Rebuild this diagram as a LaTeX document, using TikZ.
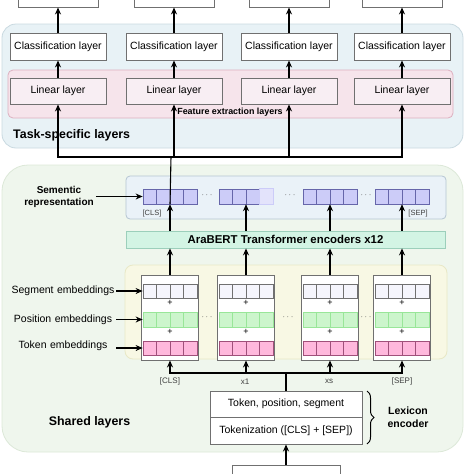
\documentclass[tikz,border=0pt]{standalone}
\usepackage{fontspec}
\setmainfont{Liberation Sans}
\usetikzlibrary{positioning,arrows.meta,decorations.pathreplacing}
\definecolor{taskbg}{HTML}{E8F2F6}
\definecolor{taskline}{HTML}{C9D9E0}
\definecolor{featbg}{HTML}{F6E4EB}
\definecolor{featline}{HTML}{DDB0C0}
\definecolor{linbg}{HTML}{F8EEF3}
\definecolor{sharedbg}{HTML}{EFF6ED}
\definecolor{sharedline}{HTML}{DCE8D8}
\definecolor{sembg}{HTML}{EAF2F8}
\definecolor{semline}{HTML}{B5C5D3}
\definecolor{semcell}{HTML}{CCCCF8}
\definecolor{semcellline}{HTML}{6666AA}
\definecolor{encbg}{HTML}{D3F4E4}
\definecolor{encline}{HTML}{9CCFBB}
\definecolor{embbg}{HTML}{F8F8E4}
\definecolor{embline}{HTML}{E8E8C6}
\definecolor{segcell}{HTML}{F5F5FC}
\definecolor{poscell}{HTML}{CCF5CC}
\definecolor{posline}{HTML}{99E699}
\definecolor{tokcell}{HTML}{FFB8DC}
\definecolor{tokline}{HTML}{A0507A}
\definecolor{boxline}{HTML}{707070}
\newcommand{\fsz}[1]{\fontsize{#1}{#1}\selectfont}

\begin{document}
\begin{tikzpicture}[x=1pt,y=-1pt,
    arr/.style={-{Stealth[length=7pt,width=6pt]},line width=1.1pt},
    layerbox/.style={draw=boxline,line width=0.9pt,minimum width=96pt,minimum height=27pt,inner sep=0pt,font=\fsz{10.5}},
    cell/.style 2 args={fill=#1,draw=#2,line width=0.8pt,minimum width=13.5pt,minimum height=15pt,inner sep=0pt},
    title/.style={font=\bfseries\fsz{12.4},inner sep=0pt},
    small/.style={font=\fsz{7.5},text=black!75,inner sep=0pt},
    dots/.style={font=\fsz{9},text=black!75,inner sep=0pt},
    emblabel/.style={text width=106pt,align=center,inner sep=0pt,font=\fsz{10.5}}]
\useasboundingbox (0,0) rectangle (474,474);
% backgrounds
\draw[taskline,fill=taskbg,rounded corners=14pt,line width=0.8pt] (2,24) rectangle (463,148);
\draw[featline,fill=featbg,rounded corners=5pt,line width=0.8pt] (8,70) rectangle (453,118);
\draw[sharedline,fill=sharedbg,rounded corners=26pt,line width=0.8pt] (2,165) rectangle (463,452);
\draw[semline,fill=sembg,rounded corners=4pt,line width=0.8pt] (126,176) rectangle (446,219);
\draw[embline,fill=embbg,rounded corners=8pt,line width=0.8pt] (125,265) rectangle (447,359);

% task-specific heads
\foreach \i/\x in {1/58,2/174,3/289,4/402} {
  \node[layerbox,minimum width=80pt,minimum height=30pt] (out\i) at (\x,-8) {};
  \node[layerbox,fill=white] (cls\i) at (\x,46.5) {Classification layer};
  \node[layerbox,fill=linbg,minimum height=26pt] (lin\i) at (\x,91) {Linear layer};
  \draw[arr] (cls\i) -- (out\i);
  \draw[arr] (lin\i) -- (cls\i);
}
\node[font=\bfseries\fsz{8.9},inner sep=0pt] (featlbl) at (230,112.5) {Feature extraction layers};
\node[title,anchor=west] (tasklbl) at (13,135) {Task-specific layers};

% semantic representation
\foreach \i/\x in {1/170,2/246,3/330,4/402} {
  \node[minimum width=54pt,minimum height=15pt,inner sep=0pt] (s\i) at (\x,196.5) {};
  \foreach \k in {1,...,4}
    \node[cell={semcell}{semcellline}] (s\i-\k) at (\x-33.75+13.5*\k,196.5) {};
}
\draw[fill=semcell!55,draw=semcell,line width=0.8pt] (s2-4.south west) rectangle (s2-4.north east);
\foreach \x in {207,290,366} \node[dots] at (\x,195) {$\cdots$};
\node[small] (clslbl) at (152,214) {[CLS]};
\node[small] (seplbl) at (418,214) {[SEP]};
\node[align=center,font=\bfseries\fontsize{10}{12.5}\selectfont,inner sep=2pt] (seml) at (59,197) {Sementic\\representation};
\draw[arr] (seml.east |- s1-1.west) -- (s1-1.west);

% encoder
\node[draw=encline,fill=encbg,line width=0.8pt,minimum width=319pt,minimum height=17pt,inner sep=0pt,font=\bfseries\fsz{11.4}] (enc) at (285.5,239.5) {AraBERT Transformer encoders x12};

% input embeddings
\foreach \i/\x in {1/170,2/246,3/330,4/402} {
  \node[draw=boxline,fill=white,line width=0.9pt,minimum width=57pt,minimum height=85pt,inner sep=0pt] (e\i) at (\x,317.5) {};
  \foreach \k in {1,...,4} {
    \node[cell={segcell}{boxline},minimum height=14pt] (seg\i-\k) at (\x-33.75+13.5*\k,291) {};
    \node[cell={poscell}{posline}] (pos\i-\k) at (\x-33.75+13.5*\k,319.5) {};
    \node[cell={tokcell}{tokline},minimum height=14pt] (tok\i-\k) at (\x-33.75+13.5*\k,348) {};
  }
  \node[inner sep=0pt,font=\fsz{9}] at (\x,303) {+};
  \node[inner sep=0pt,font=\fsz{9}] at (\x,332) {+};
  \draw[arr] (e\i.north) -- (enc.south -| e\i);
  \draw[arr] (enc.north -| s\i) -- (s\i.south);
}
\foreach \x in {207,288,366} \node[dots] at (\x,317) {$\cdots$};
\node[emblabel] (segl) at (63,291) {Segment embeddings};
\node[emblabel] (posl) at (63,319.5) {Position embeddings};
\node[emblabel] (tokl) at (63,346) {Token embeddings};
\draw[arr] (segl.east) -- (seg1-1.west);
\draw[arr] (posl.east) -- (pos1-1.west);
\draw[arr] (tokl.east |- tok1-1.west) -- (tok1-1.west);

% to task-specific layers
\coordinate (hubtop) at (171,157);
\draw[line width=1.1pt] (s1.south) -- (hubtop);
\foreach \i in {1,...,4} \draw[arr] (hubtop) -| (lin\i);

% lexicon encoder
\node[layerbox,fill=white,minimum width=152pt,minimum height=26pt] (lext) at (286,404) {Token, position, segment};
\node[layerbox,fill=white,minimum width=152pt,minimum height=27pt] (lexb) at (286,430.5) {Tokenization ([CLS] + [SEP])};
\coordinate (hubbot) at (286,373);
\draw[line width=1.1pt] (lext) -- (hubbot);
\foreach \i in {1,...,4} \draw[arr] (hubbot) -| (e\i);
\foreach \x/\t in {170/{[CLS]},245/x1,329/xs,402/{[SEP]}} \node[small,font=\fsz{8}] at (\x,381.5) {\t};
\draw[decorate,decoration={brace,amplitude=7pt},line width=1pt] (367,391) -- (367,444);
\node[align=center,font=\bfseries\fontsize{10.5}{13}\selectfont,inner sep=0pt] (lexlbl) at (408,417) {Lexicon\\encoder};
\node[title] (sharedlbl) at (89.5,422) {Shared layers};

% input
\node[layerbox,minimum width=108pt,minimum height=30pt] (inp) at (286,480) {};
\draw[arr] (inp) -- (lexb);
\end{tikzpicture}
\end{document}
